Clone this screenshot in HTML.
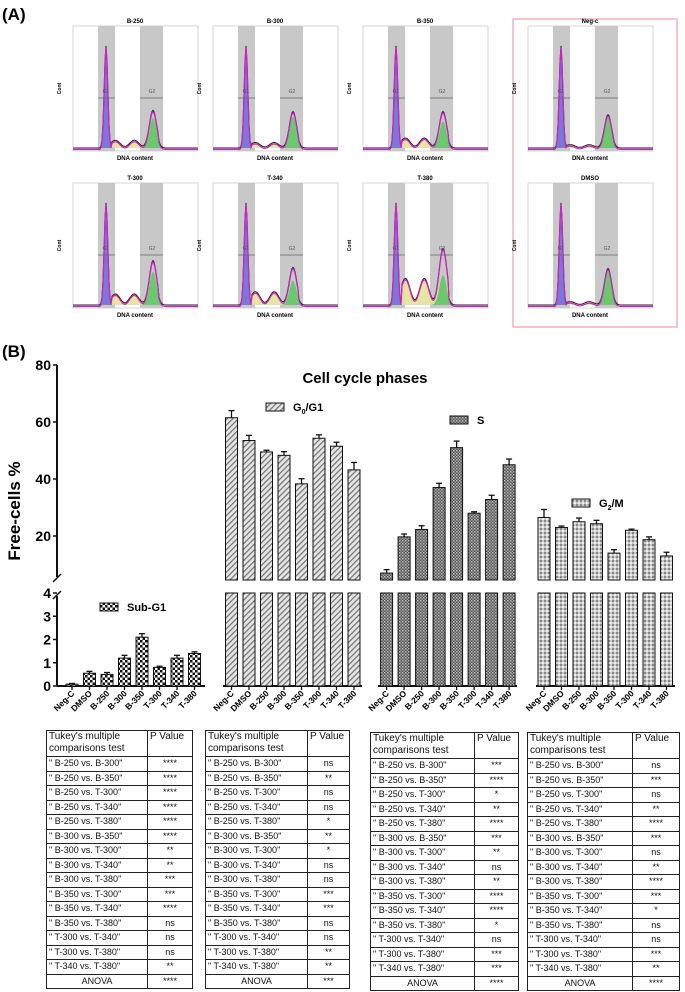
<!DOCTYPE html>
<html><head><meta charset="utf-8">
<style>
body{margin:0;width:685px;height:992px;background:#fff;position:relative;overflow:hidden;font-family:"Liberation Sans",Arial,sans-serif;}
svg{position:absolute;left:0;top:0;}
table{position:absolute;border-collapse:collapse;table-layout:fixed;font-family:"Liberation Sans",sans-serif;font-size:9px;color:#111;}
td{border:1px solid #222;padding:0 2px;height:13.5px;line-height:11px;white-space:nowrap;overflow:hidden;}
td.p{text-align:center;}
tr.h td{height:25px;vertical-align:top;font-size:10px;line-height:12px;white-space:normal;}
</style></head>
<body>
<svg id="fig" width="685" height="992">
<defs>
<pattern id="pG1" width="4" height="4" patternUnits="userSpaceOnUse" patternTransform="rotate(45)"><rect width="4" height="4" fill="#e6e6e6"/><rect width="1.3" height="4" fill="#777"/></pattern>
<pattern id="pS" width="3" height="3" patternUnits="userSpaceOnUse"><rect width="3" height="3" fill="#555"/><rect width="1.5" height="1.5" fill="#bbb"/><rect x="1.5" y="1.5" width="1.5" height="1.5" fill="#999"/></pattern>
<pattern id="pG2" width="4" height="4" patternUnits="userSpaceOnUse"><rect width="4" height="4" fill="#c8c8c8"/><rect width="2" height="2" fill="#888"/><rect x="2" y="2" width="2" height="2" fill="#eee"/></pattern>
<pattern id="pSub" width="5" height="5" patternUnits="userSpaceOnUse"><rect width="5" height="5" fill="#fff"/><rect width="2.5" height="2.5" fill="#111"/><rect x="2.5" y="2.5" width="2.5" height="2.5" fill="#111"/></pattern>
</defs>
<text x="2" y="20" font-size="17" font-weight="bold">(A)</text>
<rect x="513" y="19" width="164" height="308" fill="none" stroke="#f0a0b0" stroke-width="1.2"/>
<g id="panelA"></g>
<text x="2" y="357" font-size="17" font-weight="bold">(B)</text>
<g id="panelB"></g>
</svg>

<script>
// ---------- Panel A histograms ----------
const histTitles=["B-250","B-300","B-350","Neg-c","T-300","T-340","T-380","DMSO"];
const histG2=[0.27,0.28,0.24,0.27,0.3,0.22,0.27,0.3];
const histS=[0.07,0.05,0.09,0.03,0.1,0.12,0.24,0.03];
const histX=[73,213,363,528];
const histY=[26,183];
const A=document.getElementById('panelA');
function peak(x,c,w){return Math.exp(-Math.pow((x-c)/w,2));}
histTitles.forEach((t,i)=>{
  const ox=histX[i%4], oy=histY[Math.floor(i/4)], W=125, H=125;
  const g=document.createElementNS('http://www.w3.org/2000/svg','g');
  
  
  g.setAttribute('transform','translate('+ox+','+oy+')');
  const base=H-3;
  let line='',fillG1='',fillG2='',fillS='';
  for(let x=0;x<=W;x+=1){
    const v=0.92*peak(x,33,2.5)+histG2[i]*peak(x,80,5)+(x>38&&x<86?histS[i]*(0.6+0.4*Math.sin(x/3)):0);
    const y=base-v*(H-14);
    line+=(x?'L':'M')+x+','+y.toFixed(1);
  }
  for(let x=24;x<=42;x++){fillG1+=(x>24?'L':'M')+x+','+(base-0.92*peak(x,33,2.5)*(H-14)).toFixed(1);}
  fillG1+='L42,'+base+'L24,'+base+'Z';
  for(let x=66;x<=95;x++){fillG2+=(x>66?'L':'M')+x+','+(base-histG2[i]*peak(x,80,5)*(H-14)).toFixed(1);}
  fillG2+='L95,'+base+'L66,'+base+'Z';
  for(let x=36;x<=88;x++){fillS+=(x>36?'L':'M')+x+','+(base-histS[i]*(0.6+0.4*Math.sin(x/3))*(H-14)).toFixed(1);}
  fillS+='L88,'+base+'L36,'+base+'Z';
  g.innerHTML='<rect x="0" y="0" width="'+W+'" height="'+H+'" fill="#fff" stroke="#ccc" stroke-width="0.8"/>'+
   '<rect x="25" y="0" width="17" height="'+H+'" fill="#c8c8c8"/>'+
   '<rect x="67" y="0" width="23" height="'+H+'" fill="#c8c8c8"/>'+
   '<path d="'+fillS+'" fill="#e6e29a" opacity="0.9"/>'+
   '<path d="'+fillG2+'" fill="#6cc86c"/>'+
   '<path d="'+fillG1+'" fill="#7a78d8"/>'+
   '<path d="'+line+'" fill="none" stroke="#222" stroke-width="1"/>'+
   '<path d="'+line+'" fill="none" stroke="#d020c8" stroke-width="1.2" transform="translate(0,1.5)"/>'+
   '<line x1="25" y1="72" x2="42" y2="72" stroke="#666" stroke-width="0.8"/>'+
   '<line x1="67" y1="72" x2="90" y2="72" stroke="#666" stroke-width="0.8"/>'+
   '<text x="33" y="67" font-size="5" text-anchor="middle" fill="#555">G1</text>'+
   '<text x="79" y="67" font-size="5" text-anchor="middle" fill="#555">G2</text>'+
   '<text x="62" y="-3" font-size="6" font-weight="bold" text-anchor="middle">'+t+'</text>'+
   '<text x="62" y="'+(H+9)+'" font-size="6" font-weight="bold" text-anchor="middle">DNA content</text>'+
   '<text x="-12" y="'+(H/2)+'" font-size="5" font-weight="bold" text-anchor="middle" transform="rotate(-90,-12,'+(H/2)+')">Cont</text>';
  A.appendChild(g);
});

// ---------- Panel B chart data ----------
const categories=["Neg-C","DMSO","B-250","B-300","B-350","T-300","T-340","T-380"];
const subG1=[0.08,0.55,0.5,1.2,2.1,0.8,1.2,1.4];
const subG1Err=[0.03,0.08,0.08,0.12,0.15,0.05,0.12,0.07];
const g0g1=[61.5,53.5,49.5,48.3,38.3,54.3,51.5,43.2];
const g0g1Err=[2.5,1.8,0.6,1.3,1.8,1.2,1.4,2.6];
const sPhase=[7,19.7,22.3,37,51,28,32.8,45];
const sPhaseErr=[1.2,1,1.3,1.5,2.3,0.5,1.5,2];
const g2m=[26.5,23,25,24.3,14,22,18.7,13];
const g2mErr=[2.8,0.5,1.3,1.2,1.2,0.4,1,1.3];
const upperTicks=[20,40,60,80];
const lowerTicks=[0,1,2,3,4];

const NS='http://www.w3.org/2000/svg';
const B=document.getElementById('panelB');
const UP_TOP=365, UP_BOT=580;
const LO_TOP=593, LO_BOT=686, LO_MAX=4;
function yU(v){return 536-(v-20)*(536-365)/60;}
function yL(v){return LO_BOT-v*(LO_BOT-LO_TOP)/LO_MAX;}
const groupStart=[72,231.5,386.6,544];
const step=17.5, bw=12;
function xC(g,i){return groupStart[g]+i*step;}
function mk(tag,attrs,parent){const e=document.createElementNS(NS,tag);for(const k in attrs)e.setAttribute(k,attrs[k]);(parent||B).appendChild(e);return e;}

const ax=mk('g',{});


mk('line',{x1:57,y1:UP_TOP,x2:57,y2:UP_BOT-3,stroke:'#111','stroke-width':2},ax);
mk('line',{x1:57,y1:LO_TOP+3,x2:57,y2:LO_BOT,stroke:'#111','stroke-width':2},ax);
mk('line',{x1:53,y1:UP_BOT+2,x2:61,y2:UP_BOT-6,stroke:'#111','stroke-width':1.5},ax);
mk('line',{x1:53,y1:LO_TOP+6,x2:61,y2:LO_TOP-2,stroke:'#111','stroke-width':1.5},ax);
upperTicks.forEach(t=>{
  mk('line',{x1:53,y1:yU(t),x2:57,y2:yU(t),stroke:'#111','stroke-width':1.5},ax);
  const tx=mk('text',{x:51,y:yU(t)+5,'font-size':14,'font-weight':'bold','text-anchor':'end'},ax);tx.textContent=t;
});
lowerTicks.forEach(t=>{
  mk('line',{x1:53,y1:yL(t),x2:57,y2:yL(t),stroke:'#111','stroke-width':1.5},ax);
  const tx=mk('text',{x:51,y:yL(t)+5,'font-size':14,'font-weight':'bold','text-anchor':'end'},ax);tx.textContent=t;
});
const yt=mk('text',{x:20,y:511,'font-size':17,'font-weight':'bold','text-anchor':'middle',transform:'rotate(-90,20,511)'});
yt.textContent='Free-cells %';


const tt=mk('text',{x:365,y:383,'font-size':15,'font-weight':'bold','text-anchor':'middle'});
tt.textContent='Cell cycle phases';


mk('line',{x1:57,y1:LO_BOT,x2:205,y2:LO_BOT,stroke:'#111','stroke-width':2});
mk('line',{x1:223,y1:LO_BOT,x2:362,y2:LO_BOT,stroke:'#111','stroke-width':2});
mk('line',{x1:378,y1:LO_BOT,x2:517,y2:LO_BOT,stroke:'#111','stroke-width':2});
mk('line',{x1:536,y1:LO_BOT,x2:675,y2:LO_BOT,stroke:'#111','stroke-width':2});

function drawBar(g,i,v,e,fill,name,lowerOnly){
  const x=xC(g,i)-bw/2;
  if(lowerOnly){
    const r=mk('rect',{x:x,y:yL(v),width:bw,height:LO_BOT-yL(v),fill:fill,stroke:'#111','stroke-width':1});
    
    
    mk('line',{x1:xC(g,i),y1:yL(v),x2:xC(g,i),y2:yL(v+e),stroke:'#111','stroke-width':1.3});
    mk('line',{x1:xC(g,i)-3,y1:yL(v+e),x2:xC(g,i)+3,y2:yL(v+e),stroke:'#111','stroke-width':1.3});
  } else {
    const r=mk('rect',{x:x,y:yU(v),width:bw,height:UP_BOT-yU(v),fill:fill,stroke:'#111','stroke-width':1});
    
    
    const r2=mk('rect',{x:x,y:LO_TOP,width:bw,height:LO_BOT-LO_TOP,fill:fill,stroke:'#111','stroke-width':1});
    
    
    mk('line',{x1:xC(g,i),y1:yU(v),x2:xC(g,i),y2:yU(v+e),stroke:'#111','stroke-width':1.3});
    mk('line',{x1:xC(g,i)-3,y1:yU(v+e),x2:xC(g,i)+3,y2:yU(v+e),stroke:'#111','stroke-width':1.3});
  }
  mk('line',{x1:xC(g,i),y1:LO_BOT,x2:xC(g,i),y2:LO_BOT+4,stroke:'#111','stroke-width':1.3});
  const lx=xC(g,i)+3, ly=LO_BOT+8;
  const lb=mk('text',{x:lx,y:ly,'font-size':8.5,'font-weight':'bold','text-anchor':'end',transform:'rotate(-45,'+lx+','+ly+')'});
  lb.textContent=categories[i];
  
  
}
categories.forEach((c,i)=>{
  drawBar(0,i,subG1[i],subG1Err[i],'url(#pSub)','sub-g1',true);
  drawBar(1,i,g0g1[i],g0g1Err[i],'url(#pG1)','g0-g1',false);
  drawBar(2,i,sPhase[i],sPhaseErr[i],'url(#pS)','s-phase',false);
  drawBar(3,i,g2m[i],g2mErr[i],'url(#pG2)','g2-m',false);
});
function legend(x,y,fill,label,name){
  const g=mk('g',{});
  
  
  mk('rect',{x:x,y:y-5,width:18,height:8,fill:fill,stroke:'#111','stroke-width':1},g);
  const t=mk('text',{x:x+27,y:y+3,'font-size':11,'font-weight':'bold'},g);
  t.innerHTML=label;
}
legend(266,408,'url(#pG1)','G<tspan font-size="7" dy="3">0</tspan><tspan dy="-3">/G1</tspan>','legend-g0-g1');
legend(450,421,'url(#pS)','S','legend-s');
legend(572,504,'url(#pG2)','G<tspan font-size="7" dy="3">2</tspan><tspan dy="-3">/M</tspan>','legend-g2-m');
legend(100,608,'url(#pSub)','Sub-G1','legend-sub-g1');
</script>

<table style="left:46px;top:730px;width:146px">
<colgroup><col style="width:101px"><col style="width:45px"></colgroup>
<tr class="h"><td>Tukey's multiple comparisons test</td><td>P Value</td></tr>
<tr><td>" B-250 vs. B-300"</td><td class="p">****</td></tr>
<tr><td>" B-250 vs. B-350"</td><td class="p">****</td></tr>
<tr><td>" B-250 vs. T-300"</td><td class="p">****</td></tr>
<tr><td>" B-250 vs. T-340"</td><td class="p">****</td></tr>
<tr><td>" B-250 vs. T-380"</td><td class="p">****</td></tr>
<tr><td>" B-300 vs. B-350"</td><td class="p">****</td></tr>
<tr><td>" B-300 vs. T-300"</td><td class="p">**</td></tr>
<tr><td>" B-300 vs. T-340"</td><td class="p">**</td></tr>
<tr><td>" B-300 vs. T-380"</td><td class="p">***</td></tr>
<tr><td>" B-350 vs. T-300"</td><td class="p">***</td></tr>
<tr><td>" B-350 vs. T-340"</td><td class="p">****</td></tr>
<tr><td>" B-350 vs. T-380"</td><td class="p">ns</td></tr>
<tr><td>" T-300 vs. T-340"</td><td class="p">ns</td></tr>
<tr><td>" T-300 vs. T-380"</td><td class="p">ns</td></tr>
<tr><td>" T-340 vs. T-380"</td><td class="p">**</td></tr>
<tr><td class="p">ANOVA</td><td class="p">****</td></tr>
</table>

<table style="left:205px;top:730px;width:144px">
<colgroup><col style="width:102px"><col style="width:42px"></colgroup>
<tr class="h"><td>Tukey's multiple comparisons test</td><td>P Value</td></tr>
<tr><td>" B-250 vs. B-300"</td><td class="p">ns</td></tr>
<tr><td>" B-250 vs. B-350"</td><td class="p">**</td></tr>
<tr><td>" B-250 vs. T-300"</td><td class="p">ns</td></tr>
<tr><td>" B-250 vs. T-340"</td><td class="p">ns</td></tr>
<tr><td>" B-250 vs. T-380"</td><td class="p">*</td></tr>
<tr><td>" B-300 vs. B-350"</td><td class="p">**</td></tr>
<tr><td>" B-300 vs. T-300"</td><td class="p">*</td></tr>
<tr><td>" B-300 vs. T-340"</td><td class="p">ns</td></tr>
<tr><td>" B-300 vs. T-380"</td><td class="p">ns</td></tr>
<tr><td>" B-350 vs. T-300"</td><td class="p">***</td></tr>
<tr><td>" B-350 vs. T-340"</td><td class="p">***</td></tr>
<tr><td>" B-350 vs. T-380"</td><td class="p">ns</td></tr>
<tr><td>" T-300 vs. T-340"</td><td class="p">ns</td></tr>
<tr><td>" T-300 vs. T-380"</td><td class="p">**</td></tr>
<tr><td>" T-340 vs. T-380"</td><td class="p">**</td></tr>
<tr><td class="p">ANOVA</td><td class="p">***</td></tr>
</table>

<table style="left:370px;top:732px;width:148px">
<colgroup><col style="width:104px"><col style="width:44px"></colgroup>
<tr class="h"><td>Tukey's multiple comparisons test</td><td>P Value</td></tr>
<tr><td>" B-250 vs. B-300"</td><td class="p">***</td></tr>
<tr><td>" B-250 vs. B-350"</td><td class="p">****</td></tr>
<tr><td>" B-250 vs. T-300"</td><td class="p">*</td></tr>
<tr><td>" B-250 vs. T-340"</td><td class="p">**</td></tr>
<tr><td>" B-250 vs. T-380"</td><td class="p">****</td></tr>
<tr><td>" B-300 vs. B-350"</td><td class="p">***</td></tr>
<tr><td>" B-300 vs. T-300"</td><td class="p">**</td></tr>
<tr><td>" B-300 vs. T-340"</td><td class="p">ns</td></tr>
<tr><td>" B-300 vs. T-380"</td><td class="p">**</td></tr>
<tr><td>" B-350 vs. T-300"</td><td class="p">****</td></tr>
<tr><td>" B-350 vs. T-340"</td><td class="p">****</td></tr>
<tr><td>" B-350 vs. T-380"</td><td class="p">*</td></tr>
<tr><td>" T-300 vs. T-340"</td><td class="p">ns</td></tr>
<tr><td>" T-300 vs. T-380"</td><td class="p">***</td></tr>
<tr><td>" T-340 vs. T-380"</td><td class="p">***</td></tr>
<tr><td class="p">ANOVA</td><td class="p">****</td></tr>
</table>

<table style="left:527px;top:732px;width:152px">
<colgroup><col style="width:105px"><col style="width:47px"></colgroup>
<tr class="h"><td>Tukey's multiple comparisons test</td><td>P Value</td></tr>
<tr><td>" B-250 vs. B-300"</td><td class="p">ns</td></tr>
<tr><td>" B-250 vs. B-350"</td><td class="p">***</td></tr>
<tr><td>" B-250 vs. T-300"</td><td class="p">ns</td></tr>
<tr><td>" B-250 vs. T-340"</td><td class="p">**</td></tr>
<tr><td>" B-250 vs. T-380"</td><td class="p">****</td></tr>
<tr><td>" B-300 vs. B-350"</td><td class="p">***</td></tr>
<tr><td>" B-300 vs. T-300"</td><td class="p">ns</td></tr>
<tr><td>" B-300 vs. T-340"</td><td class="p">**</td></tr>
<tr><td>" B-300 vs. T-380"</td><td class="p">****</td></tr>
<tr><td>" B-350 vs. T-300"</td><td class="p">***</td></tr>
<tr><td>" B-350 vs. T-340"</td><td class="p">*</td></tr>
<tr><td>" B-350 vs. T-380"</td><td class="p">ns</td></tr>
<tr><td>" T-300 vs. T-340"</td><td class="p">ns</td></tr>
<tr><td>" T-300 vs. T-380"</td><td class="p">***</td></tr>
<tr><td>" T-340 vs. T-380"</td><td class="p">**</td></tr>
<tr><td class="p">ANOVA</td><td class="p">****</td></tr>
</table>
</body></html>
